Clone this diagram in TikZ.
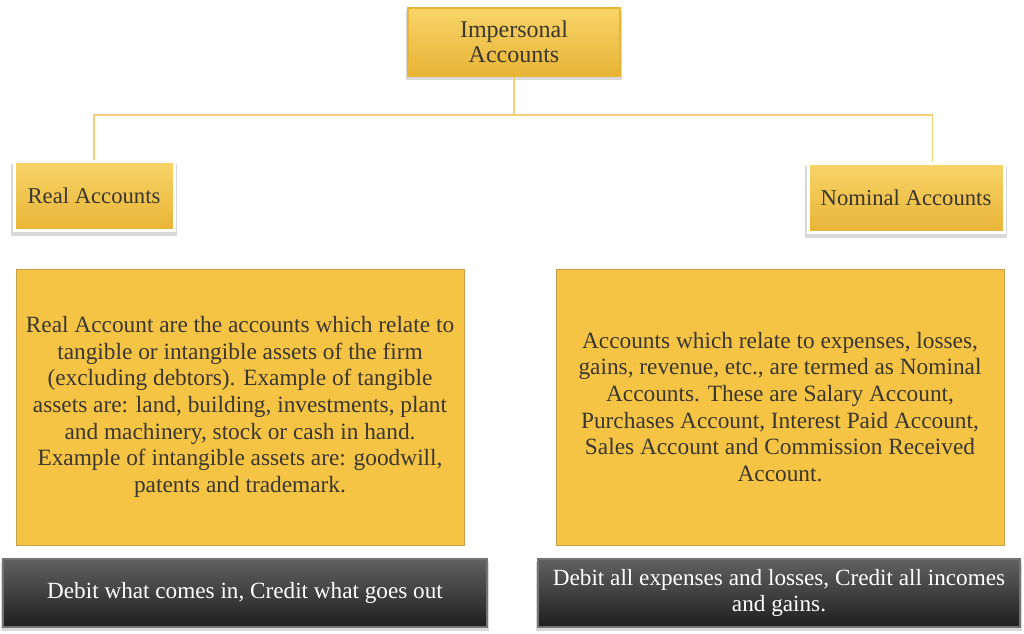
\documentclass[tikz,border=0pt]{standalone}
\usepackage{fontspec}
\setmainfont{Liberation Serif}
\usetikzlibrary{shadows}
\definecolor{gold}{HTML}{F5C444}
\definecolor{goldhi}{HTML}{F8D468}
\definecolor{goldlo}{HTML}{E8B436}
\definecolor{goldedge}{HTML}{C9A04A}
\definecolor{wire}{HTML}{F6CE7A}
\definecolor{ink}{HTML}{3A3630}

\begin{document}
\begin{tikzpicture}[x=0.75pt,y=-0.75pt,line width=1pt]
\tikzstyle{top}=[top color=goldhi,bottom color=goldlo,draw=goldlo,align=center,text=ink,
  font=\fontsize{18pt}{19pt}\selectfont,minimum width=159pt,minimum height=51pt,
  drop shadow={opacity=0.3,shadow xshift=0pt,shadow yshift=-2.5pt,shadow scale=1.02}];
\tikzstyle{head}=[top color=goldhi,bottom color=goldlo,draw=white,line width=2.25pt,text=ink,
  font=\fontsize{17pt}{19pt}\selectfont,minimum height=52pt,
  drop shadow={opacity=0.3,shadow xshift=0pt,shadow yshift=-3pt,shadow scale=1.035}];
\tikzstyle{body}=[fill=gold,draw=goldedge,line width=0.75pt,align=center,text=ink,
  font=\fontsize{17.5pt}{20pt}\selectfont,minimum width=336pt,minimum height=207pt];
\tikzstyle{rule}=[top color=black!62,bottom color=black!88,draw=black!55,align=center,text=white,
  font=\fontsize{17.4pt}{19pt}\selectfont,minimum height=51pt,
  drop shadow={opacity=0.3,shadow xshift=0pt,shadow yshift=-2.5pt,shadow scale=1.01}];
\tikzstyle{link}=[draw=wire,line width=0.9pt];

\useasboundingbox (0,0) rectangle (1024,633);

\node [top] (imp) at (514,42) {Impersonal\\Accounts};
\node [head,minimum width=120pt] (real) at (94,196) {Real Accounts};
\node [head,minimum width=147pt] (nom) at (906,198) {Nominal Accounts};

\coordinate (split) at (514,115);
\draw [link] (imp.south) -- (split);
\draw [link] (split) -| (real.north);
\draw [link] (split) -| ([xshift=20pt]nom.north);

\node [body] (realtxt) at (240,407) {Real Account are the accounts which relate to\\
  tangible or intangible assets of the firm\\
  (excluding debtors). Example of tangible\\
  assets are: land, building, investments, plant\\
  and machinery, stock or cash in hand.\\
  Example of intangible assets are: goodwill,\\
  patents and trademark.};
\node [body] (nomtxt) at (780,407) {Accounts which relate to expenses, losses,\\
  gains, revenue, etc., are termed as Nominal\\
  Accounts. These are Salary Account,\\
  Purchases Account, Interest Paid Account,\\
  Sales Account and Commission Received\\
  Account.};

\node [rule,minimum width=363pt] (realrule) at (245,593) {Debit what comes in, Credit what goes out};
\node [rule,minimum width=361.5pt] (nomrule) at (779,593) {Debit all expenses and losses, Credit all incomes\\and gains.};
\end{tikzpicture}
\end{document}
